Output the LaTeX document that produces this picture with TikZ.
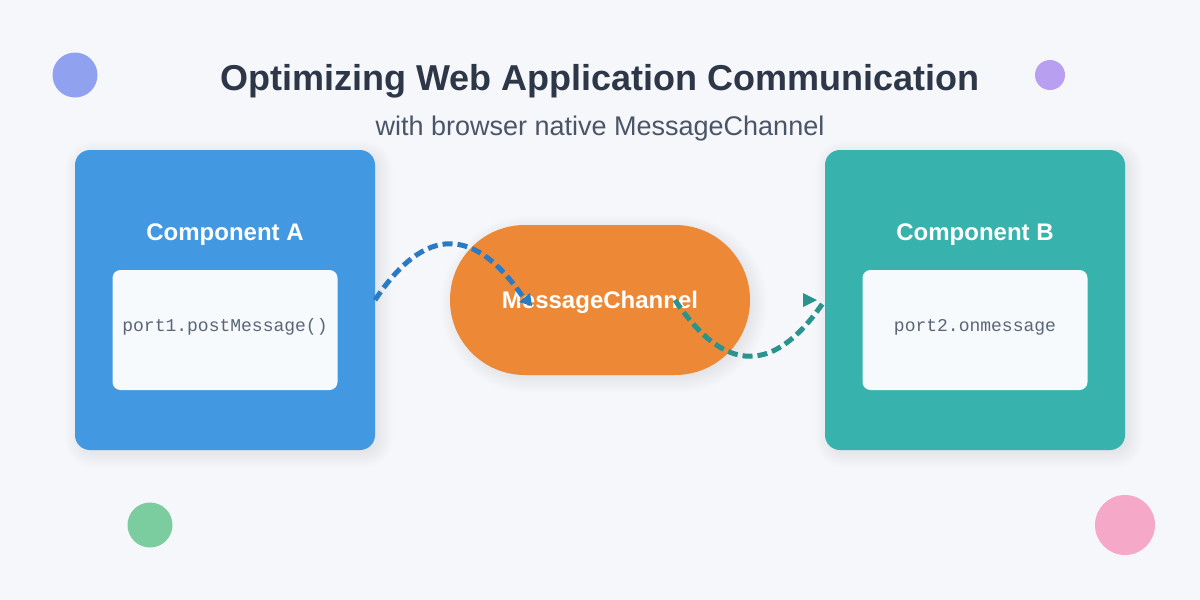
\documentclass[tikz,border=0pt]{standalone}
\usepackage{fontspec}
\setmainfont{Liberation Sans}
\setmonofont{Liberation Mono}
\usetikzlibrary{calc}
\definecolor{bgc}{HTML}{F5F7FB}
\definecolor{titlec}{HTML}{2D3748}
\definecolor{subc}{HTML}{4A5568}
\definecolor{blueA}{HTML}{4299E1}
\definecolor{tealB}{HTML}{38B2AC}
\definecolor{orangeC}{HTML}{ED8936}
\definecolor{boxc}{HTML}{F7FAFC}
\definecolor{codec}{HTML}{5A6577}
\definecolor{dashA}{HTML}{2B7BC4}
\definecolor{dashB}{HTML}{2A938E}
\definecolor{dotA}{HTML}{667EEA}
\definecolor{dotB}{HTML}{9F7AEA}
\definecolor{dotC}{HTML}{48BB78}
\definecolor{dotD}{HTML}{F687B3}
\tikzset{
  x=1pt,y=-1pt,
  comp/.style={fill=#1,minimum width=300pt,minimum height=300pt,rounded corners=15pt,inner sep=0pt,outer sep=0pt},
  chan/.style={fill=orangeC,minimum width=300pt,minimum height=150pt,rounded corners=74.9pt,inner sep=0pt,outer sep=0pt},
  codebox/.style={fill=boxc,minimum width=225pt,minimum height=120pt,rounded corners=8pt,inner sep=0pt,outer sep=0pt},
  dot/.style={circle,fill=#1,fill opacity=0.7,inner sep=0pt,outer sep=0pt},
  head/.style={text=white,font=\bfseries\fontsize{24}{28}\selectfont,inner sep=0pt,anchor=base},
  code/.style={text=codec,font=\ttfamily\fontsize{18}{22}\selectfont,inner sep=0pt,anchor=base},
  flow/.style={line width=5pt,dash pattern=on 10pt off 5pt,draw=#1},
  tip/.style={fill=#1,draw=none},
}
\newcommand{\softshadow}[5]{%
  \foreach \g in {14,13,...,-6}{
    \fill[black,opacity=0.0055,rounded corners={max(#5+\g,1)}] ({#1-#3/2-\g+4},{#2-#4/2-\g+4}) rectangle ({#1+#3/2+\g+4},{#2+#4/2+\g+4});
  }%
}
\begin{document}
\begin{tikzpicture}
\useasboundingbox (0,0) rectangle (1200,600);
\fill[bgc] (0,0) rectangle (1200,600);
\node[dot=dotA,minimum size=45pt] (d1) at (75,75) {};
\node[dot=dotB,minimum size=30pt] (d2) at (1050,75) {};
\node[dot=dotC,minimum size=45pt] (d3) at (150,525) {};
\node[dot=dotD,minimum size=60pt] (d4) at (1125,525) {};
\node[anchor=base,inner sep=0pt,text=titlec,font=\bfseries\fontsize{36}{40}\selectfont] (title) at (600,90.5) {Optimizing Web Application Communication};
\node[anchor=base,inner sep=0pt,text=subc,font=\fontsize{27}{30}\selectfont] (sub) at (600,135) {with browser native MessageChannel};
\softshadow{225}{300}{300}{300}{15}
\softshadow{975}{300}{300}{300}{15}
\softshadow{600}{300}{300}{150}{75}
\node[comp=blueA] (a) at (225,300) {};
\node[comp=tealB] (b) at (975,300) {};
\node[chan] (c) at (600,300) {};
\node[head] (atitle) at (225,240) {Component A};
\node[head] (btitle) at (975,240) {Component B};
\node[head] (ctitle) at (600,308) {MessageChannel};
\node[codebox] (abox) at (225,330) {};
\node[codebox] (bbox) at (975,330) {};
\node[code] (acode) at (225,331) {port1.postMessage()};
\node[code] (bcode) at (975,331) {port2.onmessage};
\coordinate (endA) at ($(c.center)+(-75,0)$);
\coordinate (startB) at ($(c.center)+(75,0)$);
\draw[flow=dashA] (a.east) .. controls ($(a.east)+(50,-75)$) and ($(endA)+(-50,-75)$) .. (endA);
\fill[tip=dashA] ($(endA)+(5,-7)$) -- ($(endA)+(-6,2)$) -- ($(endA)+(7,6)$) -- cycle;
\draw[flow=dashB] (startB) .. controls ($(startB)+(50,75)$) and ($(b.west)+(-50,75)$) .. (b.west);
\fill[tip=dashB] ($(b.west)+(-22,-7)$) -- ($(b.west)+(-22,7)$) -- ($(b.west)+(-8,0)$) -- cycle;
\end{tikzpicture}
\end{document}
